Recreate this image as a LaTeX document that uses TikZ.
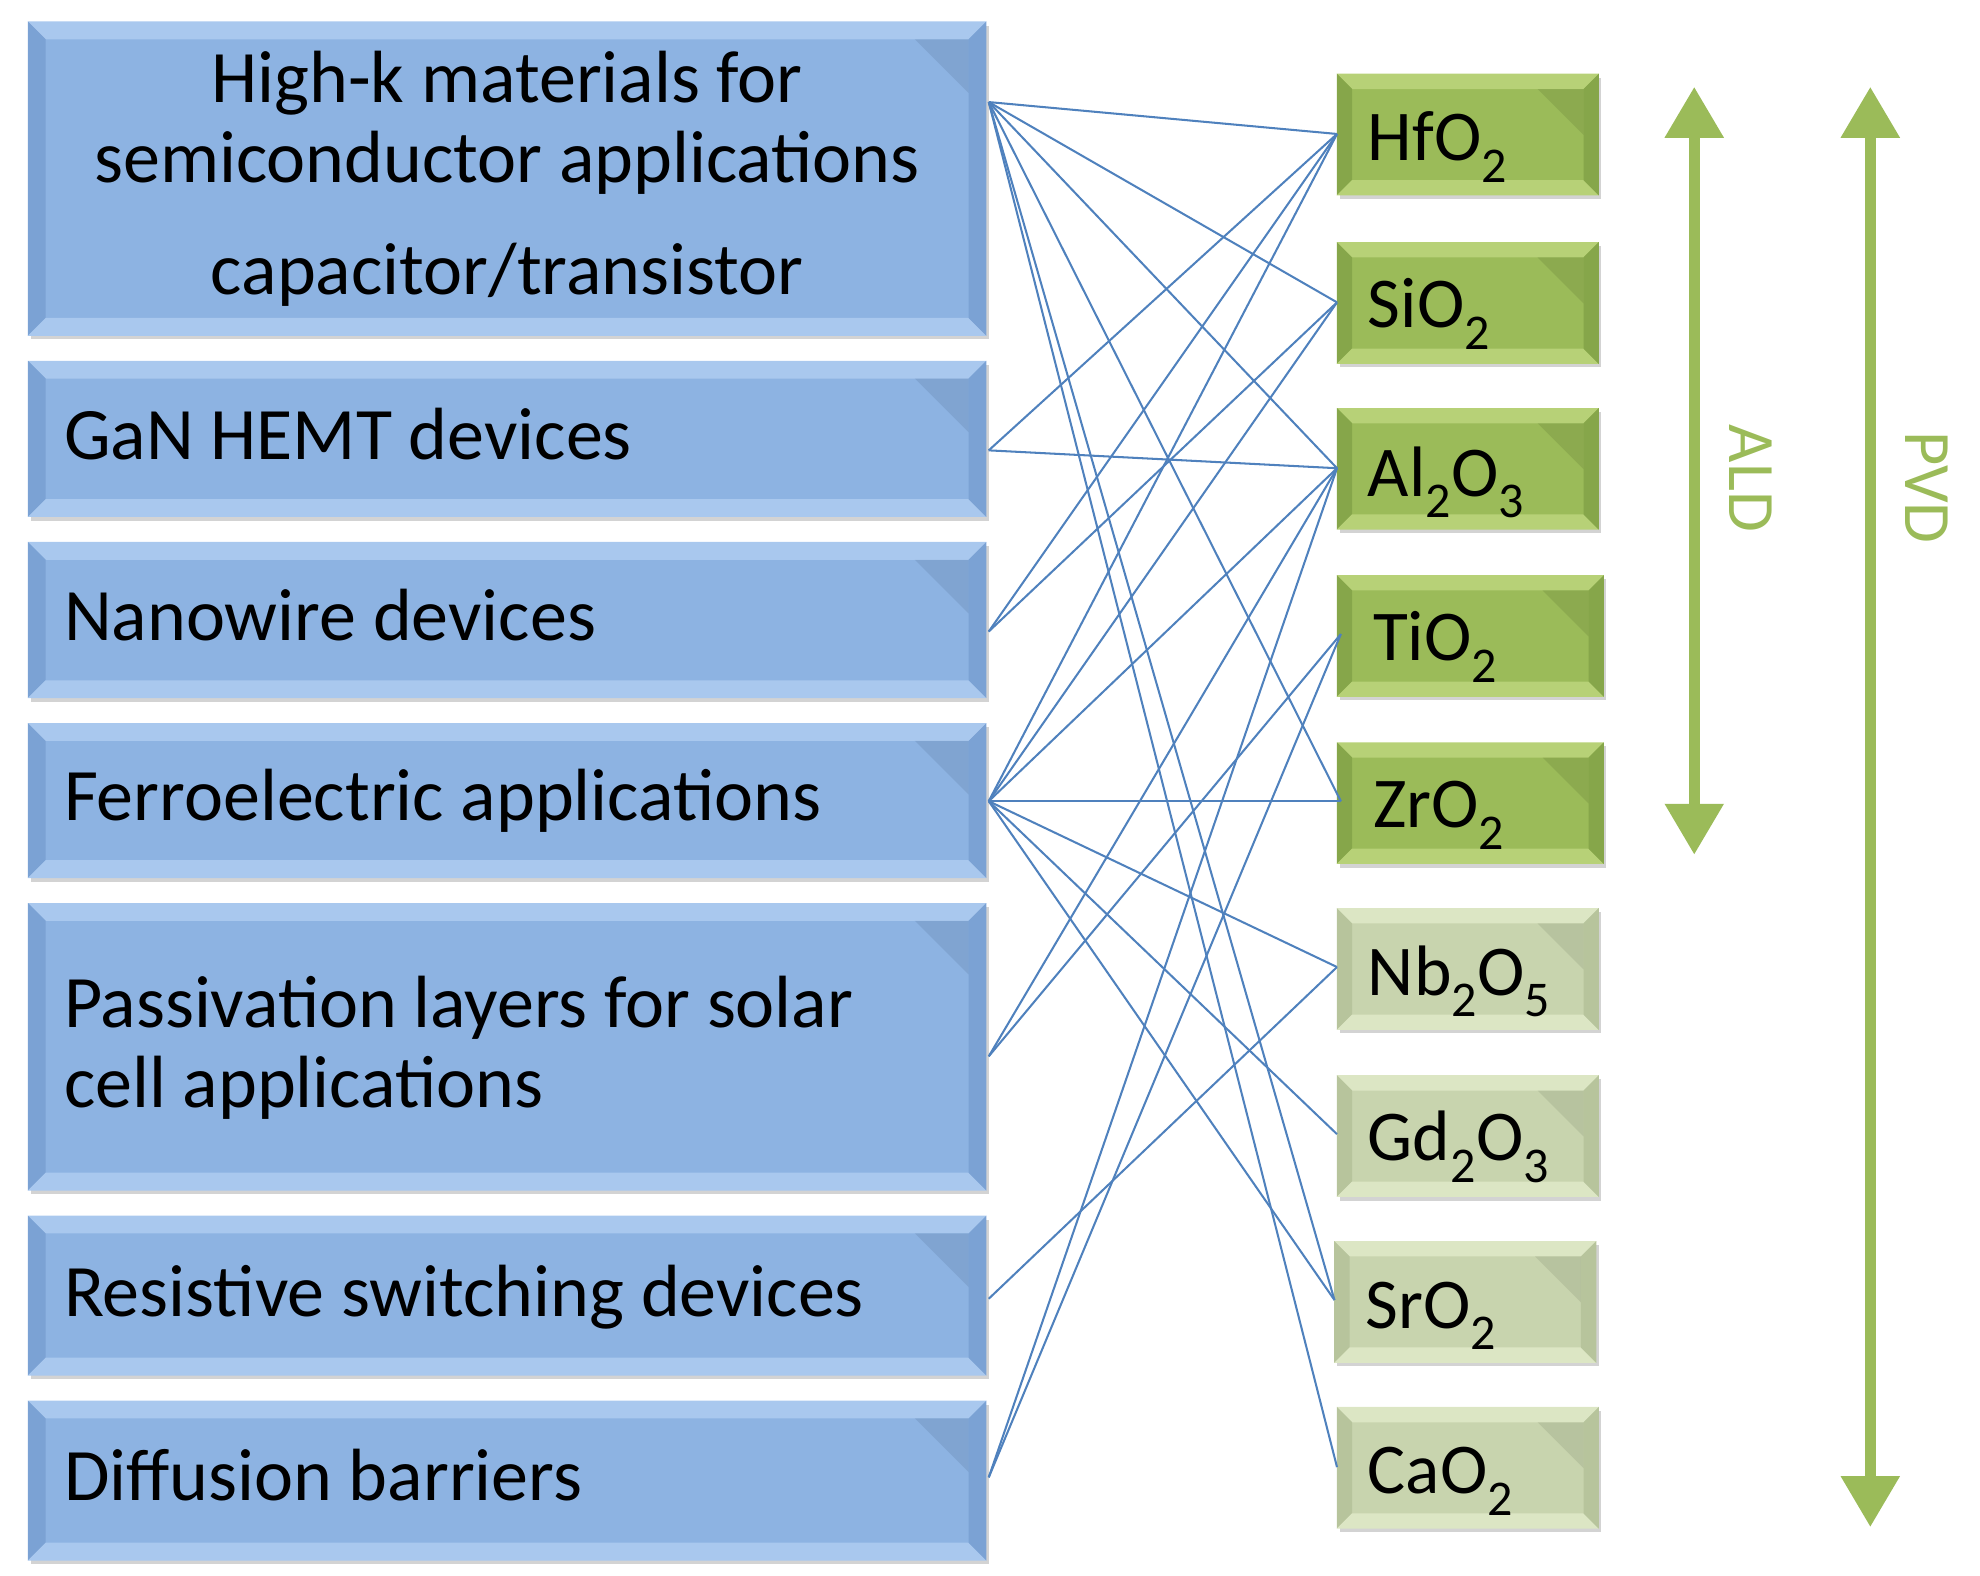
\documentclass[tikz,border=0pt]{standalone}
\usepackage{fontspec}
\setmainfont{Carlito}
\usetikzlibrary{calc,shadows,arrows.meta}
\definecolor{bmain}{HTML}{8DB3E2}
\definecolor{blight}{HTML}{A9C8EE}
\definecolor{bdark}{HTML}{7BA2D4}
\definecolor{gmain}{HTML}{9BBB59}
\definecolor{glight}{HTML}{B7D177}
\definecolor{gdark}{HTML}{86A64A}
\definecolor{pmain}{HTML}{C8D4AE}
\definecolor{plight}{HTML}{DCE6C4}
\definecolor{pdark}{HTML}{B7C49C}
\definecolor{lnk}{HTML}{4F81BD}
\definecolor{arr}{HTML}{9BBB59}
\tikzset{
 box/.style={rectangle,inner sep=0pt,drop shadow={opacity=0.35,shadow xshift=2pt,shadow yshift=-3pt}},
 lbox/.style={box,fill=bmain},
 gbox/.style={box,fill=gmain,minimum width=205pt,minimum height=95pt},
 pbox/.style={box,fill=pmain,minimum width=205pt,minimum height=95pt},
 ltxt/.style={font=\fontsize{58}{62}\selectfont,anchor=base west,inner sep=0pt},
 ctxt/.style={font=\fontsize{58}{62}\selectfont,anchor=base,inner sep=0pt},
 rtxt/.style={font=\fontsize{56}{60}\selectfont,anchor=base west,inner sep=0pt},
 link/.style={draw=lnk,line width=1.6pt},
 bigarr/.style={draw=arr,line width=9pt,{Triangle[width=44pt,length=40pt]}-{Triangle[width=44pt,length=40pt]}},
 arrlbl/.style={text=arr,font=\fontsize{52}{56}\selectfont,rotate=-90}
}
\newcommand\bev[4]{%
 \fill[#2] (#1.north west) -- (#1.north east) -- ($(#1.north east)+(-#4,#4)$) -- ($(#1.north west)+(#4,#4)$) -- cycle;
 \fill[#3] (#1.north west) -- ($(#1.north west)+(#4,#4)$) -- ($(#1.south west)+(#4,-#4)$) -- (#1.south west) -- cycle;
 \fill[#2] (#1.south west) -- ($(#1.south west)+(#4,-#4)$) -- ($(#1.south east)+(-#4,-#4)$) -- (#1.south east) -- cycle;
 \fill[#3] (#1.north east) -- ($(#1.north east)+(-#4,#4)$) -- ($(#1.south east)+(-#4,-#4)$) -- (#1.south east) -- cycle;
 \fill[#3!80!black,opacity=0.3] ($(#1.north east)+(-#4,#4)$) -- ++(-3*#4,0) -- ($(#1.north east)+(-#4,4*#4)$) -- cycle;
}
\newcommand\sub[1]{\textsubscript{#1}}
\begin{document}
\begin{tikzpicture}[x=1pt,y=-1pt]
\useasboundingbox (0,0) rectangle (1552,1235);
% left boxes
\node[lbox,minimum width=751pt,minimum height=246pt] (b1) at (397.5,140) {};
\node[lbox,minimum width=751pt,minimum height=122pt] (b2) at (397.5,344) {};
\node[lbox,minimum width=751pt,minimum height=122pt] (b3) at (397.5,486) {};
\node[lbox,minimum width=751pt,minimum height=121pt] (b4) at (397.5,627.5) {};
\node[lbox,minimum width=751pt,minimum height=225pt] (b5) at (397.5,820.5) {};
\node[lbox,minimum width=751pt,minimum height=125pt] (b6) at (397.5,1015.5) {};
\node[lbox,minimum width=751pt,minimum height=125pt] (b7) at (397.5,1160.5) {};
\foreach \n in {b1,b2,b3,b4,b5,b6,b7}{\bev{\n}{blight}{bdark}{14}}
% right boxes
\node[gbox] (hf) at (1150.5,105.5) {};
\node[gbox] (si) at (1150.5,237.5) {};
\node[gbox] (al) at (1150.5,367.5) {};
\node[gbox,minimum width=209pt] (ti) at (1152.5,498.5) {};
\node[gbox,minimum width=209pt] (zr) at (1152.5,629.5) {};
\node[pbox] (nb) at (1150.5,759.5) {};
\node[pbox] (gd) at (1150.5,890.5) {};
\node[pbox] (sr) at (1148.5,1020.5) {};
\node[pbox] (ca) at (1150.5,1150.5) {};
\foreach \n in {hf,si,al,ti,zr}{\bev{\n}{glight}{gdark}{12}}
\foreach \n in {nb,gd,sr,ca}{\bev{\n}{plight}{pdark}{12}}
% texts
\node[ctxt] (t1a) at (397.5,80) {High-k materials for};
\node[ctxt] (t1b) at (397.5,143) {semiconductor applications};
\node[ctxt] (t1c) at (397.5,231) {capacitor/transistor};
\node[ltxt] (t2) at (50,360) {GaN HEMT devices};
\node[ltxt] (t3) at (50,502) {Nanowire devices};
\node[ltxt] (t4) at (50,643) {Ferroelectric applications};
\node[ltxt] (t5a) at (50,805) {Passivation layers for solar};
\node[ltxt] (t5b) at (50,868) {cell applications};
\node[ltxt] (t6) at (50,1032) {Resistive switching devices};
\node[ltxt] (t7) at (50,1176) {Diffusion barriers};
\node[rtxt] (r1) at (1072,126) {HfO\sub{2}};
\node[rtxt] (r2) at (1072,257) {SiO\sub{2}};
\node[rtxt] (r3) at (1072,389) {Al\sub{2}O\sub{3}};
\node[rtxt] (r4) at (1076,518) {TiO\sub{2}};
\node[rtxt] (r5) at (1076,649) {ZrO\sub{2}};
\node[rtxt] (r6) at (1072,780) {Nb\sub{2}O\sub{5}};
\node[rtxt] (r7) at (1072,910) {Gd\sub{2}O\sub{3}};
\node[rtxt] (r8) at (1070,1041) {SrO\sub{2}};
\node[rtxt] (r9) at (1072,1171) {CaO\sub{2}};
% anchors
\coordinate (a1) at (775,80);
\coordinate (a2) at (775,353);
\coordinate (a3) at (775,495);
\coordinate (a4) at (775,628);
\coordinate (a5) at (775,828);
\coordinate (a6) at (775,1018);
\coordinate (a7) at (775,1158);
\coordinate (h) at (1048,105);
\coordinate (s) at (1048,237);
\coordinate (l) at (1048,367);
\coordinate (t) at (1051,497);
\coordinate (z) at (1051,628);
\coordinate (n) at (1048,758);
\coordinate (g) at (1048,889);
\coordinate (r) at (1046,1019);
\coordinate (c) at (1048,1150);
\foreach \p/\q in {a1/h,a1/s,a1/l,a1/z,a1/r,a1/c,a2/h,a2/l,a3/h,a3/s,a4/h,a4/s,a4/l,a4/z,a4/n,a4/g,a4/r,a5/l,a5/t,a6/n,a7/l,a7/t}
  \draw[link] (\p) -- (\q);
% arrows
\coordinate (ald1) at (1328,68);
\coordinate (ald2) at (1328,670);
\coordinate (pvd1) at (1466,68);
\coordinate (pvd2) at (1466,1197);
\draw[bigarr] (ald1) -- (ald2);
\draw[bigarr] (pvd1) -- (pvd2);
\node[arrlbl] (ald) at (1372,375) {ALD};
\node[arrlbl] (pvd) at (1510,382) {PVD};
\end{tikzpicture}
\end{document}
